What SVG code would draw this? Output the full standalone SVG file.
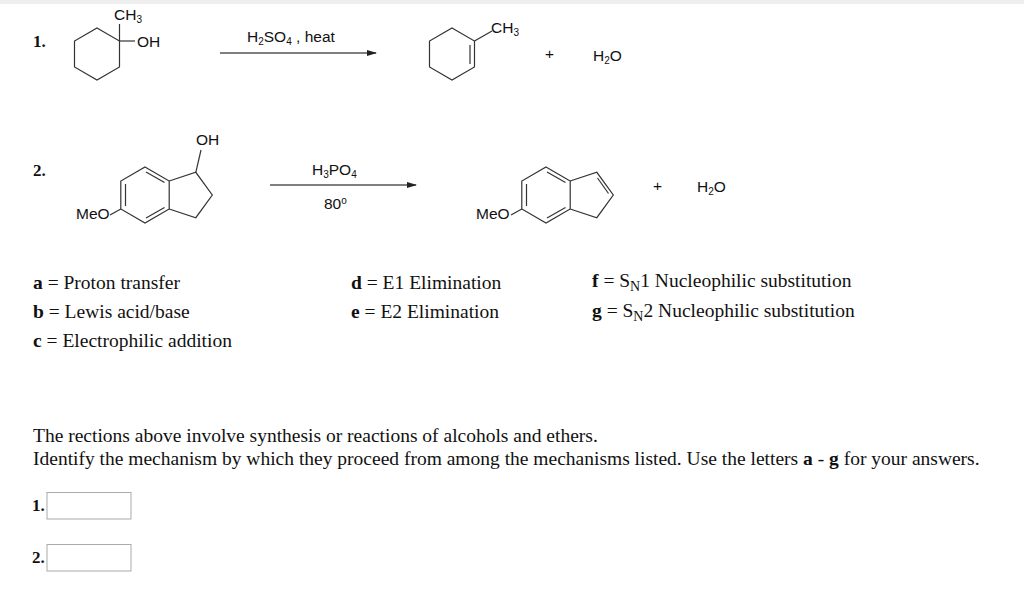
<svg xmlns="http://www.w3.org/2000/svg" width="1024" height="592" viewBox="0 0 1024 592">
<defs>
<style>
.b{fill:none;stroke:#333;stroke-width:1.2}
.c{font-family:"Liberation Sans",Arial,sans-serif;font-size:15.5px;fill:#111}
.s{font-family:"Liberation Serif","Times New Roman",serif;font-size:19.5px;fill:#111}
.n{font-family:"Liberation Serif","Times New Roman",serif;font-size:17px;font-weight:bold;fill:#111}
.ar{stroke:#555;stroke-width:1.5}
.box{fill:#fff;stroke:#aaa;stroke-width:1}
</style>
<marker id="ah" markerWidth="10" markerHeight="8" refX="9" refY="4" orient="auto" markerUnits="userSpaceOnUse"><path d="M0,1 L10,4 L0,7 z" fill="#222"/></marker>
</defs>
<rect width="1024" height="592" fill="#fff"/>
<rect width="1024" height="4" fill="#eee"/>
<text class="n" x="33" y="47">1.</text>
<text class="n" x="33" y="176">2.</text>
<g id="r1-reactant">
<polygon class="b" points="97,28 119.5,41 119.5,67 97,80 74.5,67 74.5,41"/>
<line class="b" x1="119.5" y1="41" x2="119.5" y2="24"/>
<line class="b" x1="119.5" y1="41" x2="135" y2="41"/>
<text class="c" x="114" y="20">CH<tspan font-size="10" dy="3">3</tspan></text>
<text class="c" x="137" y="47">OH</text>
</g>
<g id="r1-arrow">
<line class="ar" x1="220" y1="53" x2="376" y2="53" marker-end="url(#ah)"/>
<text class="c" x="247" y="42">H<tspan font-size="10" dy="3">2</tspan><tspan dy="-3">SO</tspan><tspan font-size="10" dy="3">4</tspan><tspan dy="-3"> , heat</tspan></text>
</g>
<g id="r1-product">
<polygon class="b" points="452,28 474.5,41 474.5,67 452,80 429.5,67 429.5,41"/>
<line class="b" x1="470" y1="45" x2="470" y2="64"/>
<line class="b" x1="474.5" y1="41" x2="492" y2="31"/>
<text class="c" x="491" y="33">CH<tspan font-size="10" dy="3">3</tspan></text>
<text class="c" x="545" y="59">+</text>
<text class="c" x="593" y="61">H<tspan font-size="10" dy="3">2</tspan><tspan dy="-3">O</tspan></text>
</g>
<g id="r2-reactant">
<polygon class="b" points="145,167 169.2,181 169.2,209 145,223 120.8,209 120.8,181"/>
<line class="b" x1="146" y1="172" x2="164.5" y2="182.5"/>
<line class="b" x1="164.5" y1="207.5" x2="146" y2="218"/>
<line class="b" x1="125.5" y1="184" x2="125.5" y2="206"/>
<polyline class="b" points="169.2,181 195.8,172.3 212.3,195 195.8,217.7 169.2,209"/>
<line class="b" x1="195.8" y1="172.3" x2="201" y2="150"/>
<text class="c" x="196" y="145">OH</text>
<line class="b" x1="120.8" y1="209" x2="110" y2="215"/>
<text class="c" x="76" y="219">MeO</text>
</g>
<g id="r2-arrow">
<line class="ar" x1="270" y1="185" x2="416" y2="185" marker-end="url(#ah)"/>
<text class="c" x="312" y="175">H<tspan font-size="10" dy="3">3</tspan><tspan dy="-3">PO</tspan><tspan font-size="10" dy="3">4</tspan></text>
<text class="c" x="324" y="209">80<tspan font-size="10" dy="-5">o</tspan></text>
</g>
<g id="r2-product">
<polygon class="b" points="546,167 570.2,181 570.2,209 546,223 521.8,209 521.8,181"/>
<line class="b" x1="547" y1="172" x2="565.5" y2="182.5"/>
<line class="b" x1="565.5" y1="207.5" x2="547" y2="218"/>
<line class="b" x1="526.5" y1="184" x2="526.5" y2="206"/>
<polyline class="b" points="570.2,181 596.8,172.3 613.3,195 596.8,217.7 570.2,209"/>
<line class="b" x1="597.5" y1="178" x2="608.5" y2="193.5"/>
<line class="b" x1="521.8" y1="209" x2="511" y2="215"/>
<text class="c" x="476" y="219">MeO</text>
<text class="c" x="653" y="191">+</text>
<text class="c" x="697" y="192">H<tspan font-size="10" dy="3">2</tspan><tspan dy="-3">O</tspan></text>
</g>
<g id="legend">
<text class="s" x="33" y="289"><tspan font-weight="bold">a</tspan> = Proton transfer</text>
<text class="s" x="33" y="318"><tspan font-weight="bold">b</tspan> = Lewis acid/base</text>
<text class="s" x="33" y="347"><tspan font-weight="bold">c</tspan> = Electrophilic addition</text>
<text class="s" x="351" y="289"><tspan font-weight="bold">d</tspan> = E1 Elimination</text>
<text class="s" x="351" y="318"><tspan font-weight="bold">e</tspan> = E2 Elimination</text>
<text class="s" x="592" y="287"><tspan font-weight="bold">f</tspan> = S<tspan font-size="14" dy="4">N</tspan><tspan dy="-4">1 Nucleophilic substitution</tspan></text>
<text class="s" x="592" y="317"><tspan font-weight="bold">g</tspan> = S<tspan font-size="14" dy="4">N</tspan><tspan dy="-4">2 Nucleophilic substitution</tspan></text>
</g>
<g id="question">
<text class="s" x="33" y="442">The rections above involve synthesis or reactions of alcohols and ethers.</text>
<text class="s" x="33" y="465">Identify the mechanism by which they proceed from among the mechanisms listed. Use the letters <tspan font-weight="bold">a</tspan> - <tspan font-weight="bold">g</tspan> for your answers.</text>
<text class="n" x="32" y="511">1.</text>
<rect class="box" x="47" y="492.5" width="84" height="26.5"/>
<text class="n" x="32" y="563">2.</text>
<rect class="box" x="47" y="544.5" width="84" height="26.5"/>
</g>
</svg>
